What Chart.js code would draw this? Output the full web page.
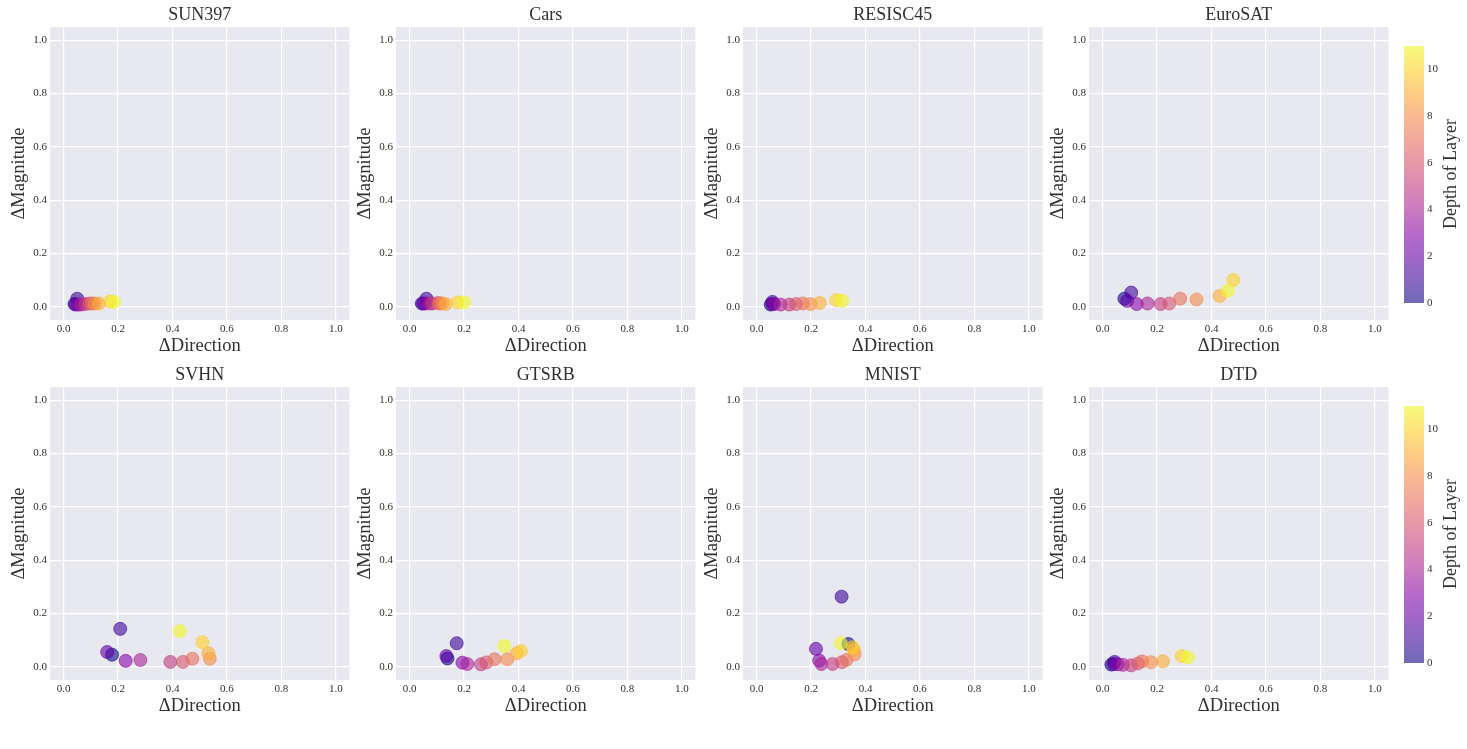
<!DOCTYPE html>
<html>
<head>
<meta charset="utf-8">
<title>Direction and magnitude by layer</title>
<script src="https://cdn.jsdelivr.net/npm/chart.js@4"></script>
<style>
    html, body { margin: 0; padding: 0; background: #ffffff; }
    body { position: relative; width: 1467px; height: 749px; overflow: hidden; }
    canvas { position: absolute; }
</style>
</head>
<body>
<script>
// Values, one point per layer (depth 0 to 11)
const depths = [0, 1, 2, 3, 4, 5, 6, 7, 8, 9, 10, 11];

const sun397X = [0.040, 0.050, 0.045, 0.055, 0.065, 0.080, 0.095, 0.105, 0.115, 0.130, 0.170, 0.185];
const sun397Y = [0.010, 0.030, 0.008, 0.008, 0.008, 0.010, 0.012, 0.012, 0.012, 0.012, 0.020, 0.018];

const carsX = [0.045, 0.062, 0.050, 0.058, 0.075, 0.085, 0.105, 0.110, 0.120, 0.133, 0.175, 0.200];
const carsY = [0.012, 0.030, 0.012, 0.012, 0.012, 0.012, 0.014, 0.012, 0.012, 0.010, 0.016, 0.016];

const resiscX = [0.052, 0.058, 0.058, 0.065, 0.088, 0.120, 0.145, 0.170, 0.198, 0.232, 0.292, 0.315];
const resiscY = [0.008, 0.018, 0.010, 0.010, 0.008, 0.008, 0.010, 0.012, 0.010, 0.014, 0.025, 0.022];

const eurosatX = [0.080, 0.105, 0.090, 0.125, 0.165, 0.213, 0.245, 0.285, 0.345, 0.430, 0.480, 0.460];
const eurosatY = [0.030, 0.053, 0.022, 0.010, 0.012, 0.010, 0.012, 0.030, 0.027, 0.040, 0.100, 0.060];

const svhnX = [0.178, 0.208, 0.160, 0.228, 0.282, 0.392, 0.438, 0.473, 0.537, 0.532, 0.510, 0.427];
const svhnY = [0.045, 0.142, 0.055, 0.022, 0.025, 0.018, 0.018, 0.030, 0.030, 0.050, 0.092, 0.133];

const gtsrbX = [0.139, 0.173, 0.135, 0.194, 0.212, 0.262, 0.282, 0.312, 0.359, 0.394, 0.409, 0.348];
const gtsrbY = [0.031, 0.088, 0.040, 0.015, 0.010, 0.009, 0.016, 0.028, 0.028, 0.050, 0.059, 0.078];

const mnistX = [0.337, 0.312, 0.218, 0.230, 0.238, 0.279, 0.313, 0.330, 0.360, 0.357, 0.352, 0.309];
const mnistY = [0.085, 0.263, 0.067, 0.023, 0.010, 0.010, 0.017, 0.025, 0.046, 0.064, 0.073, 0.088];

const dtdX = [0.032, 0.044, 0.040, 0.056, 0.075, 0.105, 0.130, 0.145, 0.178, 0.222, 0.290, 0.313];
const dtdY = [0.008, 0.018, 0.010, 0.009, 0.007, 0.005, 0.012, 0.020, 0.017, 0.020, 0.040, 0.035];

const panelTicks = [0, 0.2, 0.4, 0.6, 0.8, 1.0];
const colorbarTicks = [0, 2, 4, 6, 8, 10];

// Plasma colour map sampled at each depth, alpha added when drawn
const plasma = ['13, 8, 135', '60, 4, 155', '99, 0, 167', '134, 6, 166', '168, 34, 150', '193, 59, 130',
    '214, 85, 109', '231, 111, 90', '245, 139, 71', '253, 172, 51', '253, 208, 37', '240, 249, 33'];

const serif = '"Liberation Serif", "Times New Roman", serif';
const textColor = '#303030';
const panelColor = '#e8e8f1';

const panels = [
    { title: 'SUN397', xs: sun397X, ys: sun397Y, left: 50, top: 27 },
    { title: 'Cars', xs: carsX, ys: carsY, left: 396, top: 27 },
    { title: 'RESISC45', xs: resiscX, ys: resiscY, left: 743, top: 27 },
    { title: 'EuroSAT', xs: eurosatX, ys: eurosatY, left: 1089, top: 27 },
    { title: 'SVHN', xs: svhnX, ys: svhnY, left: 50, top: 387 },
    { title: 'GTSRB', xs: gtsrbX, ys: gtsrbY, left: 396, top: 387 },
    { title: 'MNIST', xs: mnistX, ys: mnistY, left: 743, top: 387 },
    { title: 'DTD', xs: dtdX, ys: dtdY, left: 1089, top: 387 }
];

function addCanvas(left, top, width, height) {
    const canvas = document.createElement('canvas');
    canvas.width = width;
    canvas.height = height;
    canvas.style.left = left + 'px';
    canvas.style.top = top + 'px';
    canvas.style.width = width + 'px';
    canvas.style.height = height + 'px';
    document.body.appendChild(canvas);
    return canvas;
}

// Grey axes background, drawn before the grid
const panelBackground = {
    id: 'panelBackground',
    beforeDraw(chart) {
        const area = chart.chartArea;
        chart.ctx.save();
        chart.ctx.fillStyle = panelColor;
        chart.ctx.fillRect(area.left, area.top, area.right - area.left, area.bottom - area.top);
        chart.ctx.restore();
    }
};

function panelScale(fixedSize, axisTitle, tickPadding, titlePadding) {
    return {
        type: 'linear',
        min: -0.05,
        max: 1.05,
        afterBuildTicks(scale) {
            scale.ticks = panelTicks.map(value => ({ value: value }));
        },
        afterFit(scale) {
            if (scale.isHorizontal()) {
                scale.height = fixedSize;
            } else {
                scale.width = fixedSize;
            }
        },
        grid: { color: '#ffffff', lineWidth: 1.2, drawTicks: false },
        border: { display: false },
        ticks: {
            color: textColor,
            padding: tickPadding,
            maxRotation: 0,
            autoSkip: false,
            font: { family: serif, size: 11 },
            callback: value => Number(value).toFixed(1)
        },
        title: {
            display: true,
            text: axisTitle,
            color: textColor,
            padding: titlePadding,
            font: { family: serif, size: 18.5 }
        }
    };
}

function createPanel(panel) {
    const marginLeft = 50;
    const marginTop = 27;
    const marginBottom = 37;
    // 8px extra on the right: Chart.js keeps that room for half of the last tick label
    const canvas = addCanvas(panel.left - marginLeft, panel.top - marginTop, marginLeft + 299 + 8, marginTop + 293 + marginBottom);

    new Chart(canvas.getContext('2d'), {
        type: 'scatter',
        data: {
            datasets: [{
                data: depths.map((depth, i) => ({ x: panel.xs[i], y: panel.ys[i] })),
                backgroundColor: depths.map(depth => 'rgba(' + plasma[depth] + ', 0.6)'),
                borderColor: depths.map(depth => 'rgba(' + plasma[depth] + ', 0.6)'),
                borderWidth: 1,
                pointRadius: 6.5
            }]
        },
        options: {
            responsive: false,
            animation: false,
            layout: { padding: 0 },
            plugins: {
                legend: { display: false },
                tooltip: { enabled: false },
                title: {
                    display: true,
                    fullSize: false,
                    text: panel.title,
                    color: textColor,
                    font: { family: serif, size: 18, weight: 'normal', lineHeight: 1.2 },
                    padding: { top: 4, bottom: 1.4 }
                }
            },
            scales: {
                x: panelScale(marginBottom, '\u0394Direction', 3, { top: 1, bottom: 0 }),
                y: panelScale(marginLeft, '\u0394Magnitude', 3, { top: 8, bottom: 0 })
            }
        },
        plugins: [panelBackground]
    });
}

// Colour bar: a single floating bar from 0 to 11 with the plasma gradient
function createColorbar(top) {
    const pad = 10;
    const canvas = addCanvas(1404, top - pad, 63, 257 + pad * 2);

    const depthLabel = {
        id: 'depthLabel',
        afterDraw(chart) {
            const ctx = chart.ctx;
            ctx.save();
            ctx.translate(47, pad + 128);
            ctx.rotate(-Math.PI / 2);
            ctx.fillStyle = textColor;
            ctx.font = '18px ' + serif;
            ctx.textAlign = 'center';
            ctx.textBaseline = 'middle';
            ctx.fillText('Depth of Layer', 0, 0);
            ctx.restore();
        }
    };

    new Chart(canvas.getContext('2d'), {
        type: 'bar',
        data: {
            labels: ['Depth of Layer'],
            datasets: [{
                data: [[0, 11]],
                barPercentage: 1,
                categoryPercentage: 1,
                backgroundColor(context) {
                    const area = context.chart.chartArea;
                    if (!area) {
                        return 'rgba(' + plasma[5] + ', 0.6)';
                    }
                    const gradient = context.chart.ctx.createLinearGradient(0, area.bottom, 0, area.top);
                    depths.forEach(depth => {
                        gradient.addColorStop(depth / 11, 'rgba(' + plasma[depth] + ', 0.6)');
                    });
                    return gradient;
                }
            }]
        },
        options: {
            responsive: false,
            animation: false,
            layout: { padding: { top: pad, bottom: pad } },
            plugins: {
                legend: { display: false },
                tooltip: { enabled: false }
            },
            scales: {
                x: { display: false },
                y: {
                    position: 'right',
                    min: 0,
                    max: 11,
                    afterBuildTicks(scale) {
                        scale.ticks = colorbarTicks.map(value => ({ value: value }));
                    },
                    afterFit(scale) {
                        scale.width = 43;
                    },
                    grid: { display: false, drawTicks: false },
                    border: { display: false },
                    ticks: {
                        color: textColor,
                        padding: 3,
                        autoSkip: false,
                        font: { family: serif, size: 11 }
                    }
                }
            }
        },
        plugins: [depthLabel]
    });
}

panels.forEach(createPanel);
createColorbar(46);
createColorbar(406);
</script>
</body>
</html>
